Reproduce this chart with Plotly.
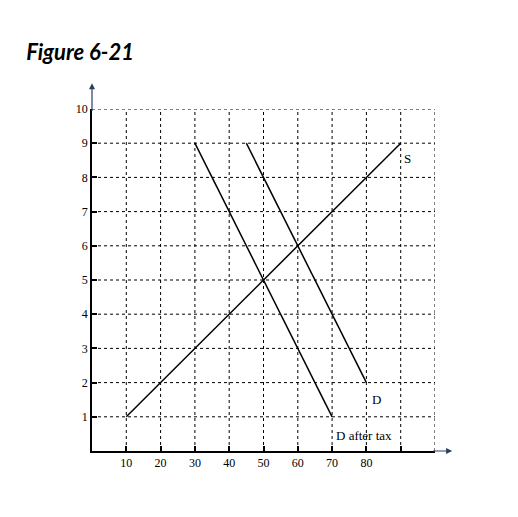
import plotly.graph_objects as go

supply_q = [10, 90]; supply_p = [1, 9]
demand_q = [45, 80]; demand_p = [9, 2]
dtax_q = [30, 70]; dtax_p = [9, 1]
xticks = [10, 20, 30, 40, 50, 60, 70, 80]
yticks = list(range(1, 11))

fig = go.Figure()
for q, p in [(supply_q, supply_p), (demand_q, demand_p), (dtax_q, dtax_p)]:
    fig.add_trace(go.Scatter(x=q, y=p, mode="lines", line=dict(color="black", width=1.5),
                             showlegend=False, cliponaxis=False))

grid = dict(color="black", width=1, dash="dot")
for x in range(10, 101, 10):
    fig.add_shape(type="line", x0=x, x1=x, y0=0, y1=10, line=grid, layer="below")
for y in yticks:
    fig.add_shape(type="line", x0=0, x1=100, y0=y, y1=y, line=grid, layer="below")
fig.add_annotation(x=105, y=0, ax=99, ay=0, axref="x", ayref="y", showarrow=True,
                   arrowhead=2, arrowwidth=1.2, text="")
fig.add_annotation(x=0, y=10.75, ax=0, ay=9.9, axref="x", ayref="y", showarrow=True,
                   arrowhead=2, arrowwidth=1.2, text="")

sfont = dict(family="Liberation Serif", size=13, color="black")
fig.add_annotation(x=90.5, y=8.55, text="S", showarrow=False, xanchor="left", font=sfont)
fig.add_annotation(x=81, y=1.5, text="D", showarrow=False, xanchor="left", font=sfont)
fig.add_annotation(x=70.5, y=0.45, text="D after tax", showarrow=False, xanchor="left", font=sfont)
ifont = dict(family="Liberation Serif", size=12, color="black")
fig.add_annotation(x=1.5, y=10.55, text="<i>price</i>", showarrow=False, xanchor="left", font=ifont)
fig.add_annotation(x=106, y=-0.7, text="<i>quantity</i>", showarrow=False, xanchor="right", font=ifont)

tf = dict(family="Liberation Serif", size=12, color="black")
fig.update_layout(
    width=518, height=517, plot_bgcolor="white", paper_bgcolor="white",
    margin=dict(l=84, r=91, t=101, b=74),
    title=dict(text="<b><i>Figure 6-21</i></b>", x=0.035, xanchor="left", y=0.9, yanchor="bottom",
               font=dict(family="Lato", size=22, color="black")),
    xaxis=dict(range=[0, 100], tickvals=list(range(10, 101, 10)),
               ticktext=[str(v) for v in xticks] + ["", ""], showgrid=False, zeroline=False,
               showline=True, linecolor="black", linewidth=1.5, ticks="inside", ticklen=5,
               tickwidth=1.5, tickcolor="black", automargin=False, tickfont=tf),
    yaxis=dict(range=[0, 10], tickvals=yticks, showgrid=False, zeroline=False,
               showline=True, linecolor="black", linewidth=1.5, ticks="inside", ticklen=5,
               tickwidth=1.5, tickcolor="black", automargin=False, tickfont=tf),
)
fig.write_html("out.html")
